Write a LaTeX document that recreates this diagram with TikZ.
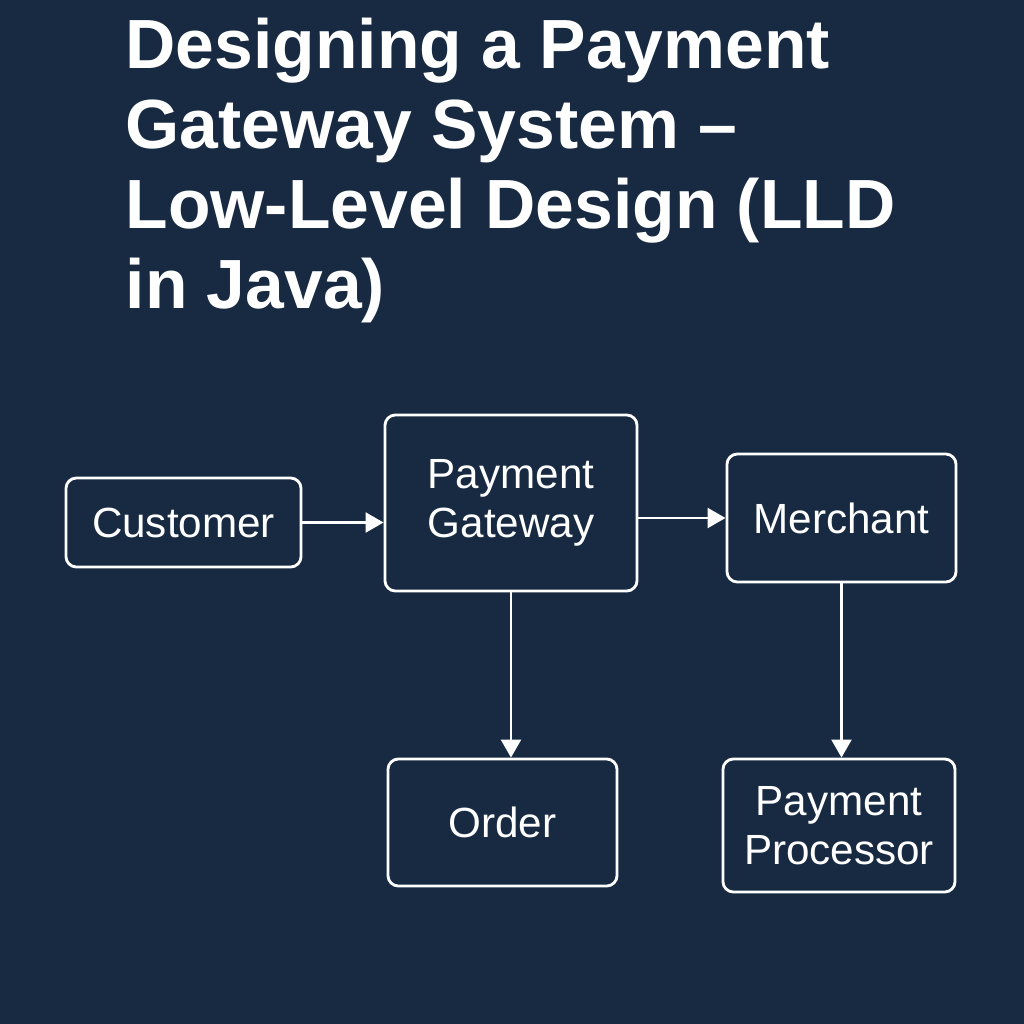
\documentclass[tikz,border=0pt]{standalone}
\usepackage{fontspec}
\setmainfont{Liberation Sans}
\usetikzlibrary{arrows.meta, positioning}
\definecolor{fondo}{HTML}{172A42}

\begin{document}
\begin{tikzpicture}[
        x=0.01cm, y=-0.01cm,
        caja/.style={
            rectangle,
            rounded corners=3pt,
            draw=white,
            line width=0.8pt,
            align=center,
            text=white,
            font=\fontsize{12}{14}\selectfont,
            inner sep=4pt
        },
        flecha/.style={
            -{Triangle[length=1.8mm,width=2mm]},
            draw=white,
            line width=0.7pt
        }
    ]

    % fondo y margenes
    \fill[fondo] (0,0) rectangle (1024,1024);
    \useasboundingbox (0,0) rectangle (1024,1024);

    \node[anchor=north west, align=left, text=white, inner sep=0pt,
          font=\fontsize{19.8}{22.8}\selectfont\bfseries] (titulo) at (125,17) {
        Designing a Payment\\
        Gateway System –\\
        Low-Level Design (LLD\\
        in Java)
    };

    \node[caja, minimum width=2.35cm, minimum height=0.89cm] (cliente) at (183.5,522.5) {Customer};

    \node[caja, minimum width=2.52cm, minimum height=1.76cm] (pasarela) at (511,503) {Payment\\Gateway};

    \node[caja, minimum width=2.29cm, minimum height=1.28cm] (comercio) at (841.5,518) {Merchant};

    \node[caja, minimum width=2.29cm, minimum height=1.27cm] (pedido) at (502.5,822.5) {Order};

    \node[caja, minimum width=2.32cm, minimum height=1.33cm] (procesador) at (839,825.5) {Payment\\Processor};

    \draw[flecha] (cliente.east) -- (cliente.east -| pasarela.west);

    \draw[flecha] (pasarela.east |- comercio.west) -- (comercio.west);

    \draw[flecha] (pasarela.south) -- (pasarela.south |- pedido.north);

    \draw[flecha] (comercio.south) -- (comercio.south |- procesador.north);

\end{tikzpicture}
\end{document}
